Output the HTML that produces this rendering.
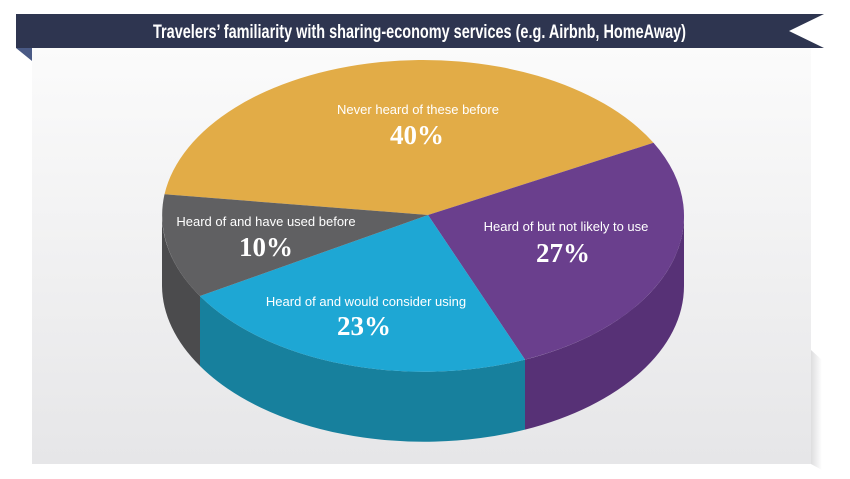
<!DOCTYPE html>
<html><head><meta charset="utf-8"><style>
html,body{margin:0;padding:0;background:#fff;width:850px;height:479px;overflow:hidden}
</style></head><body>
<svg width="850" height="479" viewBox="0 0 850 479" xmlns="http://www.w3.org/2000/svg">
<defs>
<linearGradient id="bg" x1="0" y1="0" x2="0" y2="1">
<stop offset="0" stop-color="#fbfbfb"/><stop offset="1" stop-color="#e6e6e8"/>
</linearGradient>
<linearGradient id="sh" x1="0" y1="0" x2="1" y2="0">
<stop offset="0" stop-color="#cfcfd1"/><stop offset="1" stop-color="#fff"/>
</linearGradient>
</defs>
<rect x="32" y="48" width="779" height="416" fill="url(#bg)"/>
<polygon points="811,350 822,360 822,470 811,464" fill="url(#sh)" opacity="0.7"/>
<polygon points="16,48 32,48 32,61" fill="#4a5a85"/>
<polygon points="16,14 824,14 789,31 824,48 16,48" fill="#2e3550"/>
<text x="153" y="38" textLength="533" lengthAdjust="spacingAndGlyphs" fill="#fff" font-family="'Liberation Sans',sans-serif" font-weight="bold" font-size="19">Travelers’ familiarity with sharing-economy services (e.g. Airbnb, HomeAway)</text>
<path d="M162,216 A261,156 0 0 0 200,296 L200,366 A261,156 0 0 1 162,286 Z" fill="#4b4b4d"/>
<path d="M200,296 A261,156 0 0 0 525,359.6 L525,429.6 A261,156 0 0 1 200,366 Z" fill="#17809d"/>
<path d="M525,359.6 A261,156 0 0 0 684,216 L684,286 A261,156 0 0 1 525,429.6 Z" fill="#573176"/>
<path d="M428,215 L164.5,194.3 A261,156 0 0 1 653.5,142.8 Z" fill="#e2ac47"/>
<path d="M428,215 L653.5,142.8 A261,156 0 0 1 525,359.6 Z" fill="#6a3f8d"/>
<path d="M428,215 L525,359.6 A261,156 0 0 1 200,296 Z" fill="#1ea7d4"/>
<path d="M428,215 L200,296 A261,156 0 0 1 164.5,194.3 Z" fill="#606062"/>
<g fill="#fff" text-anchor="middle">
<g font-family="'Liberation Sans',sans-serif" font-size="13">
<text x="418" y="114">Never heard of these before</text>
<text x="266" y="226">Heard of and have used before</text>
<text x="566" y="231">Heard of but not likely to use</text>
<text x="366" y="306">Heard of and would consider using</text>
</g>
<g font-family="'Liberation Serif',serif" font-weight="bold" font-size="27">
<text x="417" y="144">40%</text>
<text x="266" y="256">10%</text>
<text x="563" y="262">27%</text>
<text x="364" y="335">23%</text>
</g>
</g>
</svg>
</body></html>
